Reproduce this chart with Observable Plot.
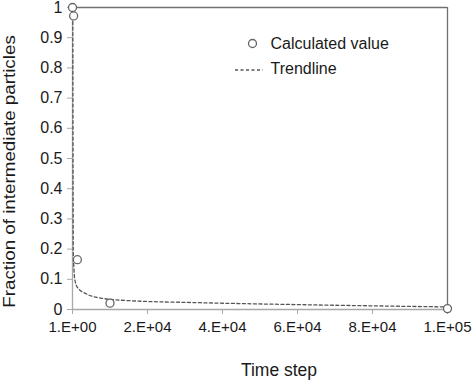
<!DOCTYPE html>
<html>
<head>
<meta charset="utf-8">
<script src="https://cdn.jsdelivr.net/npm/d3@7"></script>
<script src="https://cdn.jsdelivr.net/npm/@observablehq/plot@0.6"></script>
<style>
  html, body { margin: 0; padding: 0; background: #fff; }
  #chart { width: 474px; height: 382px; }
  svg { font-family: "Liberation Sans", Arial, sans-serif; }
</style>
</head>
<body>
<div id="chart"></div>
<script>
// Calculated values (time step, fraction)
const calcSteps = [1, 300, 1300, 10000, 100000];
const calcFractions = [1.0, 0.972, 0.165, 0.021, 0.003];

// Trendline points
const trendSteps = [80, 133, 213, 400, 670, 1330, 3470, 7470, 15470, 34130, 60800, 100000];
const trendFractions = [0.99, 0.53, 0.195, 0.13, 0.096, 0.073, 0.053, 0.038, 0.029, 0.0225, 0.016, 0.0085];

// Tick values and labels
const xTicks = [1, 20000, 40000, 60000, 80000, 100000];
const xTickLabels = ["1.E+00", "2.E+04", "4.E+04", "6.E+04", "8.E+04", "1.E+05"];
const yTicks = [0, 0.1, 0.2, 0.3, 0.4, 0.5, 0.6, 0.7, 0.8, 0.9, 1];
const yTickLabels = ["0", "0.1", "0.2", "0.3", "0.4", "0.5", "0.6", "0.7", "0.8", "0.9", "1"];

const calc = calcSteps.map((s, i) => ({step: s, frac: calcFractions[i]}));
const trend = trendSteps.map((s, i) => ({step: s, frac: trendFractions[i]}));

const W = 474, H = 382;
const mL = 72, mR = 27, mT = 7, mB = 73;

const plot = Plot.plot({
  width: W,
  height: H,
  marginLeft: mL,
  marginRight: mR,
  marginTop: mT,
  marginBottom: mB,
  style: {fontFamily: '"Liberation Sans", Arial, sans-serif', background: "#fff", overflow: "visible"},
  x: {domain: [0, 100000]},
  y: {domain: [0, 1]},
  marks: [
    Plot.ruleY([1], {stroke: "#707070", strokeWidth: 1.3}),
    Plot.ruleX([100000], {stroke: "#707070", strokeWidth: 1.3}),
    Plot.ruleY([0], {stroke: "#a8a8a8", strokeWidth: 1.3}),
    Plot.ruleX([0], {stroke: "#a8a8a8", strokeWidth: 1.3}),
    Plot.axisX({
      ticks: xTicks,
      tickFormat: d => xTickLabels[xTicks.indexOf(d)],
      tickSize: 5,
      tickPadding: 7,
      stroke: "#a8a8a8",
      fill: "#1a1a1a",
      fontSize: 15,
      label: null
    }),
    Plot.axisY({
      ticks: yTicks,
      tickFormat: d => yTickLabels[yTicks.indexOf(d)],
      tickSize: 5,
      tickPadding: 5,
      stroke: "#a8a8a8",
      fill: "#1a1a1a",
      fontSize: 16,
      label: null
    }),
    Plot.line(trend, {x: "step", y: "frac", stroke: "#555", strokeWidth: 1.3, strokeDasharray: "3,2.5", curve: "monotone-x"}),
    Plot.dot(calc, {x: "step", y: "frac", r: 4, stroke: "#666", strokeWidth: 1.3, fill: "#fff"}),
    // legend
    Plot.dot([0], {frameAnchor: "top-left", dx: 252 - mL, dy: 43 - mT, r: 4, stroke: "#666", strokeWidth: 1.3, fill: "#fff"}),
    Plot.text(["Calculated value"], {frameAnchor: "top-left", dx: 270 - mL, dy: 43 - mT, textAnchor: "start", lineAnchor: "middle", fontSize: 16, fill: "#1a1a1a"}),
    Plot.text(["Trendline"], {frameAnchor: "top-left", dx: 270 - mL, dy: 68 - mT, textAnchor: "start", lineAnchor: "middle", fontSize: 16, fill: "#1a1a1a"})
  ]
});

const svg = d3.select(plot);
svg.append("line")
  .attr("x1", 235).attr("x2", 263).attr("y1", 70).attr("y2", 70)
  .attr("stroke", "#555").attr("stroke-width", 1.3).attr("stroke-dasharray", "3,2.5");
svg.append("text")
  .attr("x", 279).attr("y", 376)
  .attr("text-anchor", "middle")
  .attr("font-size", 17.5)
  .attr("fill", "#1a1a1a")
  .text("Time step");
svg.append("text")
  .attr("transform", "translate(15,171.5) rotate(-90) scale(1,0.85)")
  .attr("text-anchor", "middle")
  .attr("font-size", 18.8)
  .attr("fill", "#1a1a1a")
  .text("Fraction of intermediate particles");

document.getElementById("chart").appendChild(plot);
</script>
</body>
</html>
